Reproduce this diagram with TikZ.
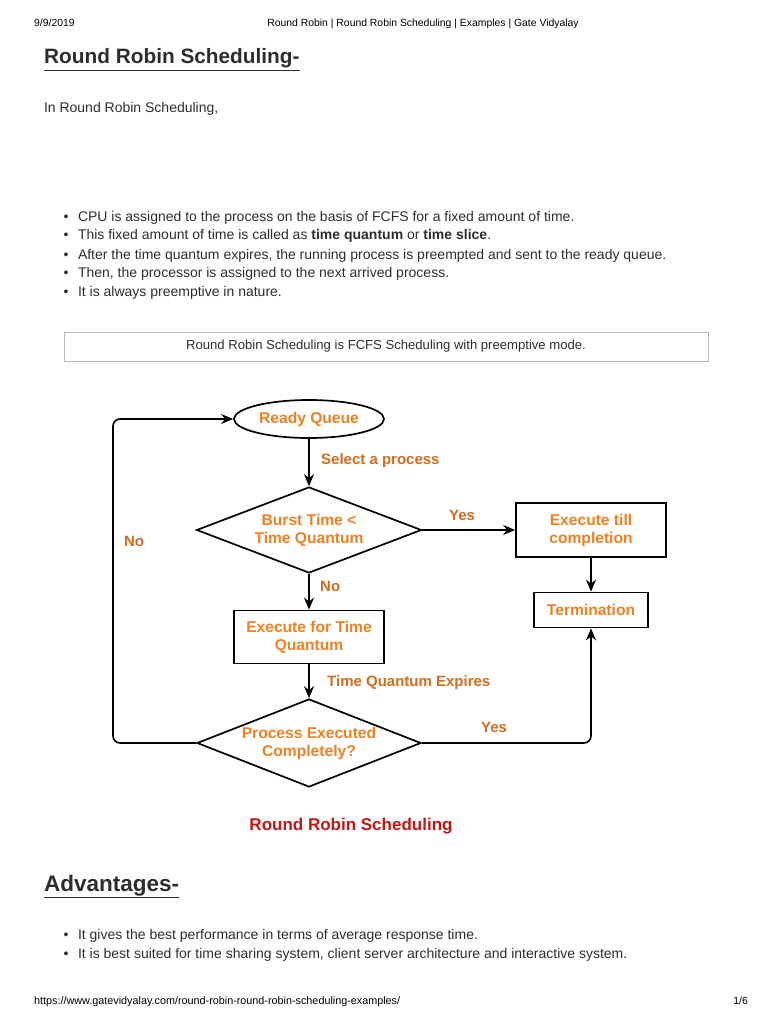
\documentclass[tikz,border=0pt]{standalone}
\usepackage{fontspec}
\setmainfont{Liberation Sans}
\usetikzlibrary{shapes.geometric,arrows.meta}
\definecolor{bodytxt}{RGB}{45,45,45}
\definecolor{nodeor}{RGB}{240,128,32}
\definecolor{labor}{RGB}{210,108,30}
\definecolor{capred}{RGB}{200,20,20}
\definecolor{boxgray}{RGB}{185,185,185}
\newcommand\fsz[2]{\fontsize{#1}{#2}\selectfont}
\begin{document}
\begin{tikzpicture}[x=1pt,y=-1pt,
  txt/.style={inner sep=0pt,outer sep=0pt,anchor=base west,text=bodytxt,font=\fsz{14}{16}},
  hdr/.style={inner sep=0pt,anchor=base west,text=black,font=\fsz{10.4}{12}},
  ttl/.style={inner sep=0pt,anchor=base west,text=bodytxt,font=\fsz{20.8}{24}\bfseries},
  flow/.style={draw=black,line width=1.7pt,text=nodeor,font=\fsz{15.6}{18}\bfseries,align=center,inner sep=0pt},
  lab/.style={inner sep=0pt,text=labor,font=\fsz{15}{18}\bfseries},
  arr/.style={line width=1.6pt,-{Stealth[length=12pt,width=10pt]}},
]
\useasboundingbox (0,0) rectangle (768,1024);
% header
\node[hdr] (date) at (34,27) {9/9/2019};
\node[hdr,anchor=base] (htitle) at (423,27) {Round Robin | Round Robin Scheduling | Examples | Gate Vidyalay};
% title
\node[ttl] (title) at (44,64) {\underline{Round Robin Scheduling-}};
\node[txt] (intro) at (44,113) {In Round Robin Scheduling,};
% bullets
\foreach \yy/\tt [count=\i] in {222/{CPU is assigned to the process on the basis of FCFS for a fixed amount of time.},
  240/{This fixed amount of time is called as \textbf{time quantum} or \textbf{time slice}.},
  259/{After the time quantum expires, the running process is preempted and sent to the ready queue.},
  277/{Then, the processor is assigned to the next arrived process.},
  296/{It is always preemptive in nature.}}{
  \node[txt,anchor=base] (b\i) at (66,\yy) {\textbullet};
  \node[txt] (t\i) at (78,\yy) {\tt};
}
% box
\node[draw=boxgray,line width=0.9pt,minimum width=644pt,minimum height=29pt,inner sep=0pt,
  text=bodytxt,font=\fsz{13.1}{15}] (note) at (386,346.5) {Round Robin Scheduling is FCFS Scheduling with preemptive mode.};
% flowchart
\node[flow,ellipse,minimum width=150pt,minimum height=38pt] (rq) at (309,419) {Ready Queue};
\node[flow,diamond,aspect=2.6,minimum width=225pt,minimum height=86pt] (d1) at (309,530) {Burst Time <\\Time Quantum};
\node[flow,rectangle,minimum width=150pt,minimum height=54pt] (etc) at (591,530) {Execute till\\completion};
\node[flow,rectangle,minimum width=114pt,minimum height=35pt] (term) at (591,610) {Termination};
\node[flow,rectangle,minimum width=150pt,minimum height=53pt] (eft) at (309,637) {Execute for Time\\Quantum};
\node[flow,diamond,aspect=2.6,minimum width=224pt,minimum height=88pt] (d2) at (309,743) {Process Executed\\Completely?};
\coordinate (loopb) at (113,743);
\draw[arr] (rq) -- (d1);
\draw[arr] (d1) -- (etc);
\draw[arr] (etc) -- (term);
\draw[arr] (d1) -- (eft);
\draw[arr] (eft) -- (d2);
\draw[arr,rounded corners=7pt] (d2.east) -| (term.south);
\draw[arr,rounded corners=7pt] (d2.west) -- (loopb) |- (rq.west);
% labels
\node[lab,anchor=west] (lsel) at (321,461) {Select a process};
\node[lab] (lyes1) at (462,515) {Yes};
\node[lab,anchor=west] (lno1) at (320,586) {No};
\node[lab,anchor=west] (ltq) at (327,683) {Time Quantum Expires};
\node[lab] (lyes2) at (494,727) {Yes};
\node[lab] (lno2) at (134,541) {No};
\node[inner sep=0pt,text=capred,font=\fsz{17}{20}\bfseries] (cap) at (351,826) {Round Robin Scheduling};
% advantages
\node[ttl,font=\fsz{22.5}{26}\bfseries] (adv) at (44,891) {\underline{Advantages-}};
\node[txt,anchor=base] (a1b) at (66,939) {\textbullet};
\node[txt] (a1) at (78,939) {It gives the best performance in terms of average response time.};
\node[txt,anchor=base] (a2b) at (66,958) {\textbullet};
\node[txt] (a2) at (78,958) {It is best suited for time sharing system, client server architecture and interactive system.};
% footer
\node[hdr,font=\fsz{10.8}{12}] (url) at (34,1004) {https://www.gatevidyalay.com/round-robin-round-robin-scheduling-examples/};
\node[hdr,anchor=base east] (page) at (748,1004) {1/6};
\end{tikzpicture}
\end{document}
